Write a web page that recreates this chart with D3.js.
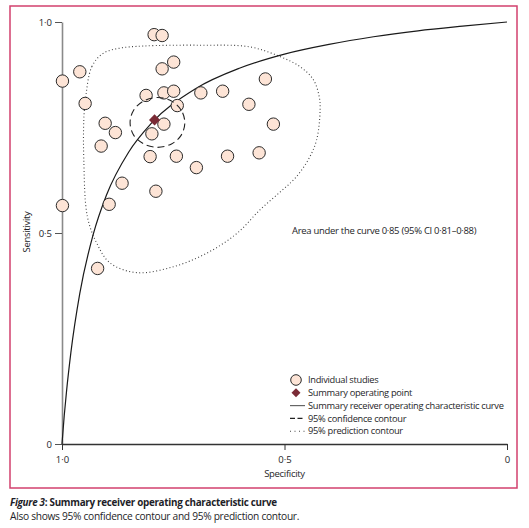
<!DOCTYPE html>
<html lang="en">
  <head>
    <meta charset="UTF-8" />
    <title>Summary ROC curve</title>
    <script src="https://d3js.org/d3.v7.min.js"></script>
    <style>
      body { margin: 0; background: #fff; }
      svg text { font-family: "Open Sans", "Noto Sans", sans-serif; fill: #1e1e28; }
    </style>
  </head>
  <body>
    <svg id="sroc" width="529" height="528"></svg>

    <script>
      // individual studies [specificity, sensitivity]
      const studies = [
        [0.793, 0.970], [0.775, 0.968], [0.960, 0.882], [0.999, 0.860],
        [0.749, 0.905], [0.775, 0.889], [0.543, 0.865], [0.948, 0.807],
        [0.811, 0.826], [0.771, 0.832], [0.749, 0.836], [0.688, 0.832],
        [0.639, 0.836], [0.580, 0.805], [0.741, 0.802], [0.903, 0.760],
        [0.880, 0.738], [0.771, 0.758], [0.798, 0.735], [0.525, 0.758],
        [0.912, 0.706], [0.802, 0.681], [0.743, 0.682], [0.628, 0.682],
        [0.557, 0.690], [0.698, 0.655], [0.865, 0.618], [0.789, 0.599],
        [0.894, 0.568], [0.999, 0.565], [0.920, 0.416]
      ];

      const summaryPoint = [0.792, 0.768];

      // SROC curve [specificity, sensitivity]
      const srocCurve = [
        [1.0, 0.0], [0.995, 0.067], [0.99, 0.123], [0.98, 0.217],
        [0.96, 0.357], [0.93, 0.496], [0.9, 0.590], [0.85, 0.692],
        [0.8, 0.759], [0.7, 0.842], [0.6, 0.891], [0.5, 0.924],
        [0.4, 0.947], [0.3, 0.965], [0.2, 0.979], [0.1, 0.990], [0.0, 1.0]
      ];

      const confidenceContour = [
        [0.724, 0.762], [0.732, 0.791], [0.754, 0.813], [0.785, 0.821],
        [0.816, 0.813], [0.839, 0.791], [0.847, 0.762], [0.839, 0.732],
        [0.816, 0.711], [0.785, 0.703], [0.754, 0.711], [0.732, 0.732]
      ];

      const predictionContour = [
        [0.948, 0.808], [0.933, 0.894], [0.907, 0.926], [0.870, 0.938],
        [0.818, 0.943], [0.690, 0.945], [0.578, 0.941], [0.510, 0.918],
        [0.465, 0.894], [0.435, 0.863], [0.422, 0.823], [0.420, 0.791],
        [0.428, 0.720], [0.447, 0.673], [0.476, 0.630], [0.510, 0.597],
        [0.555, 0.555], [0.607, 0.499], [0.675, 0.452], [0.750, 0.420],
        [0.832, 0.406], [0.892, 0.429], [0.922, 0.476], [0.943, 0.539],
        [0.951, 0.673], [0.951, 0.768]
      ];

      const xTicks = [1, 0.5, 0];
      const yTicks = [0, 0.5, 1];
      const aucLabel = "Area under the curve 0·85 (95% CI 0·81–0·88)";
      const legendLabels = [
        "Individual studies",
        "Summary operating point",
        "Summary receiver operating characteristic curve",
        "95% confidence contour",
        "95% prediction contour"
      ];

      const fmt = (d) => (d === 0 ? "0" : d3.format(".1f")(d).replace(".", "·"));

      const svg = d3.select("#sroc");

      // pink frame
      svg
        .append("rect")
        .attr("x", 10)
        .attr("y", 6)
        .attr("width", 507)
        .attr("height", 482)
        .attr("fill", "none")
        .attr("stroke", "#d2406e")
        .attr("stroke-width", 1.5);

      const xScale = d3.scaleLinear().domain([1, 0]).range([62, 507]);
      const yScale = d3.scaleLinear().domain([0, 1]).range([444, 22]);

      // axes
      const yAxis = svg
        .append("g")
        .attr("transform", "translate(62,0)")
        .call(d3.axisLeft(yScale).tickValues(yTicks).tickFormat(fmt).tickSize(7).tickSizeOuter(0));
      yAxis.select(".domain").attr("stroke", "#8a8a8a").attr("stroke-width", 1.6);
      yAxis.selectAll(".tick line").attr("stroke", "#555");
      yAxis.selectAll("text").style("font-size", "9.5px");

      const xAxis = svg
        .append("g")
        .attr("transform", "translate(0,444)")
        .call(d3.axisBottom(xScale).tickValues(xTicks).tickFormat(fmt).tickSize(6).tickSizeOuter(0));
      xAxis.select(".domain").attr("stroke", "#333").attr("stroke-width", 1.3);
      xAxis.selectAll(".tick line").attr("stroke", "#333");
      xAxis.selectAll("text").style("font-size", "9.5px").attr("dy", "1em");

      svg
        .append("text")
        .attr("transform", "translate(30,232) rotate(-90)")
        .attr("text-anchor", "middle")
        .style("font-size", "9.5px")
        .style("letter-spacing", "-0.3px")
        .text("Sensitivity");

      svg
        .append("text")
        .attr("x", 284.5)
        .attr("y", 477)
        .attr("text-anchor", "middle")
        .style("font-size", "9.5px")
        .style("letter-spacing", "-0.3px")
        .text("Specificity");

      const line = d3
        .line()
        .x((d) => xScale(d[0]))
        .y((d) => yScale(d[1]));

      // prediction contour
      svg
        .append("path")
        .datum(predictionContour)
        .attr("fill", "none")
        .attr("stroke", "#444")
        .attr("stroke-width", 1.1)
        .attr("stroke-dasharray", "1,2.4")
        .attr("d", line.curve(d3.curveCatmullRomClosed));

      // SROC curve
      svg
        .append("path")
        .datum(srocCurve)
        .attr("fill", "none")
        .attr("stroke", "#1a1a1a")
        .attr("stroke-width", 1.2)
        .attr("d", line.curve(d3.curveMonotoneX));

      // studies
      svg
        .append("g")
        .selectAll("circle")
        .data(studies)
        .join("circle")
        .attr("cx", (d) => xScale(d[0]))
        .attr("cy", (d) => yScale(d[1]))
        .attr("r", 6.2)
        .attr("fill", "#fde4d6")
        .attr("stroke", "#2a2a2a")
        .attr("stroke-width", 1);

      // confidence contour
      svg
        .append("path")
        .datum(confidenceContour)
        .attr("fill", "none")
        .attr("stroke", "#222")
        .attr("stroke-width", 1.1)
        .attr("stroke-dasharray", "7,4")
        .attr("d", line.curve(d3.curveCatmullRomClosed));

      // summary point
      const diamond = d3.symbol().type(d3.symbolSquare).size(62);
      svg
        .append("path")
        .attr("d", diamond)
        .attr("transform", `translate(${xScale(summaryPoint[0])},${yScale(summaryPoint[1])}) rotate(45)`)
        .attr("fill", "#7a2b36");

      svg
        .append("text")
        .attr("x", 292)
        .attr("y", 234)
        .style("font-size", "9.5px")
        .style("letter-spacing", "-0.3px")
        .text(aucLabel);

      // legend
      const legend = svg.append("g").attr("transform", "translate(296,380)");
      const rowH = 12.8;
      legend
        .append("circle")
        .attr("r", 5.3)
        .attr("fill", "#fde4d6")
        .attr("stroke", "#2a2a2a");
      legend
        .append("path")
        .attr("d", d3.symbol().type(d3.symbolSquare).size(40))
        .attr("transform", `translate(0,${rowH}) rotate(45)`)
        .attr("fill", "#7a2b36");
      legend
        .append("line")
        .attr("x1", -6).attr("x2", 9)
        .attr("y1", rowH * 2).attr("y2", rowH * 2)
        .attr("stroke", "#666").attr("stroke-width", 1.2);
      legend
        .append("line")
        .attr("x1", -6).attr("x2", 9)
        .attr("y1", rowH * 3).attr("y2", rowH * 3)
        .attr("stroke", "#222").attr("stroke-width", 1.1)
        .attr("stroke-dasharray", "5,2.5");
      legend
        .append("line")
        .attr("x1", -6).attr("x2", 9)
        .attr("y1", rowH * 4).attr("y2", rowH * 4)
        .attr("stroke", "#444").attr("stroke-width", 1.1)
        .attr("stroke-dasharray", "1,3.5");

      legend
        .selectAll("text")
        .data(legendLabels)
        .join("text")
        .attr("x", 12)
        .attr("y", (d, i) => i * rowH + 3.2)
        .style("font-size", "9.3px")
        .style("letter-spacing", "-0.3px")
        .text((d) => d);

      // caption
      const cap = svg.append("text").attr("x", 10).attr("y", 506).style("font-size", "9.9px").style("letter-spacing", "-0.3px");
      cap.append("tspan").style("font-style", "italic").style("font-weight", "bold").text("Figure 3");
      cap.append("tspan").style("font-weight", "bold").text(": Summary receiver operating characteristic curve");

      svg
        .append("text")
        .attr("x", 10)
        .attr("y", 520)
        .style("font-size", "10.2px")
        .style("letter-spacing", "-0.3px")
        .text("Also shows 95% confidence contour and 95% prediction contour.");
    </script>
  </body>
</html>
